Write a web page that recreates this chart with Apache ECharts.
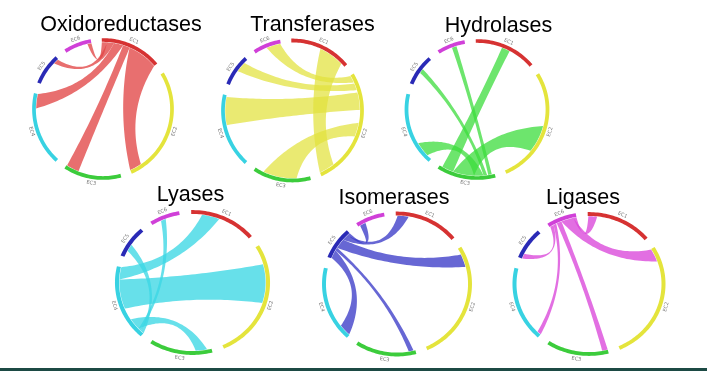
<!DOCTYPE html>
<html><head><meta charset="utf-8">
<script src="https://cdn.jsdelivr.net/npm/echarts@6/dist/echarts.min.js"></script>
<style>html,body{margin:0;padding:0;background:#fff}#c{width:707px;height:371px}</style>
</head><body><div id="c"></div>
<script>
// ---------- data ----------
const classNames = ['EC1', 'EC2', 'EC3', 'EC4', 'EC5', 'EC6'];
const arcSpan = [51, 97, 48, 61, 26, 23];      // ring degrees per class
const arcGap = 9;
const diagramTitles = ['Oxidoreductases', 'Transferases', 'Hydrolases', 'Lyases', 'Isomerases', 'Ligases'];
const diagramSource = [0, 1, 2, 3, 4, 5];
// links: [targetClass, srcStart, srcEnd, tgtStart, tgtEnd] (ring degrees)
const linksOxidoreductases = [
  [5, 4.5, 9, 352, 355.5],
  [4, 9, 15, 318.5, 323],
  [3, 15, 23, 276, 288.5],
  [2, 23, 29, 207, 218],
  [1, 29, 55.5, 151, 161.5]
];
const linksTransferases = [
  [5, 65, 71, 343, 355],
  [4, 72, 78, 311, 320],
  [3, 80, 95, 263, 287],
  [2, 106, 118, 182, 211],
  [0, 148, 161.5, 30, 52]
];
const linksHydrolases = [
  [5, 173, 176, 344, 348],
  [4, 177, 180, 309, 313],
  [3, 180, 188, 232, 245],
  [1, 188, 206, 110, 134],
  [0, 206, 216, 27, 34]
];
const linksLyases = [
  [0, 278, 288.5, 13, 27],
  [1, 253, 278, 80, 113],
  [2, 233, 243, 174, 183],
  [5, 230.5, 233, 340, 344],
  [4, 227.5, 230.5, 303, 309]
];
const linksIsomerases = [
  [3, 298, 305, 228, 238],
  [2, 305, 307.5, 172, 176],
  [1, 307.5, 316, 70, 81],
  [0, 316, 321, 6, 15],
  [5, 321, 323.5, 334, 339]
];
const linksLigases = [
  [4, 333, 336, 297.5, 302],
  [3, 336, 338.5, 227.5, 231],
  [2, 339, 343, 170.5, 175],
  [1, 343, 353, 65, 76],
  [0, 353, 355.5, 5, 12]
];
const allLinks = [linksOxidoreductases, linksTransferases, linksHydrolases, linksLyases, linksIsomerases, linksLigases];

// ---------- styles / layout ----------
const arcColors = ['#d63232', '#e4e43c', '#3ccc3c', '#38d2e2', '#2a2ab6', '#d040d8'];
const ribbonColors = ['rgba(226,70,70,0.78)', 'rgba(226,226,60,0.72)', 'rgba(60,220,60,0.75)',
  'rgba(60,215,228,0.78)', 'rgba(60,60,200,0.78)', 'rgba(218,70,218,0.78)'];
const layouts = [
  { left: 34, top: 40, width: 138, height: 138, tx: 121, ty: 25 },
  { left: 223, top: 40.5, width: 139, height: 140, tx: 312.5, ty: 25 },
  { left: 406.5, top: 41, width: 141, height: 137, tx: 498.5, ty: 26 },
  { left: 117, top: 212, width: 151, height: 141, tx: 190.5, ty: 195.5 },
  { left: 324, top: 213.5, width: 146, height: 141, tx: 394, ty: 198 },
  { left: 514.5, top: 214, width: 149, height: 140, tx: 583, ty: 198.5 }
];
const ANGLE0 = 95.5;
const R_OUT = 1.027, R_IN = 0.973, R_RIB = 0.968, R_LAB = 1.085, BEZ = 0.5;

const arcStart = [], arcEnd = [];
(function () { let acc = arcGap / 2; arcSpan.forEach(s => { arcStart.push(acc); arcEnd.push(acc + s); acc += s + arcGap; }); })();

function unit(a, r) { const t = (ANGLE0 - a) * Math.PI / 180; return [r * Math.cos(t), r * Math.sin(t)]; }
function arcPts(a0, a1, r, out) {
  const n = Math.max(2, Math.ceil(Math.abs(a1 - a0) / 1.5));
  for (let k = 0; k <= n; k++) out.push(unit(a0 + (a1 - a0) * k / n, r));
}
function bezPts(p, q, out) {
  const c = [(p[0] + q[0]) / 2 * BEZ, (p[1] + q[1]) / 2 * BEZ];
  const n = 40;
  for (let k = 1; k < n; k++) {
    const t = k / n, u = 1 - t;
    out.push([u * u * p[0] + 2 * u * t * c[0] + t * t * q[0], u * u * p[1] + 2 * u * t * c[1] + t * t * q[1]]);
  }
}
function renderArc(params, api) {
  const i = api.value(0), a0 = api.value(1), a1 = api.value(2);
  const pts = [];
  arcPts(a0, a1, R_OUT, pts);
  const inner = []; arcPts(a0, a1, R_IN, inner); inner.reverse();
  const poly = pts.concat(inner).map(p => api.coord(p));
  const c = api.coord([0, 0]);
  const lp = api.coord(unit((a0 + a1) / 2, R_LAB));
  let rot = Math.atan2(-(lp[1] - c[1]), lp[0] - c[0]) - Math.PI / 2;
  while (rot <= -Math.PI / 2) rot += Math.PI;
  while (rot > Math.PI / 2) rot -= Math.PI;
  return {
    type: 'group', children: [
      { type: 'polygon', shape: { points: poly }, style: { fill: arcColors[i] } },
      { type: 'text', x: lp[0], y: lp[1], rotation: rot,
        style: { text: classNames[i], fontSize: 5, fill: '#777', align: 'center', verticalAlign: 'middle', fontFamily: 'DejaVu Sans' } }
    ]
  };
}
function makeRibbon(color) {
  return function (params, api) {
    const s0 = api.value(1), s1 = api.value(2), t0 = api.value(3), t1 = api.value(4);
    const pts = [];
    arcPts(s0, s1, R_RIB, pts);
    bezPts(unit(s1, R_RIB), unit(t0, R_RIB), pts);
    arcPts(t0, t1, R_RIB, pts);
    bezPts(unit(t1, R_RIB), unit(s0, R_RIB), pts);
    return { type: 'polygon', shape: { points: pts.map(p => api.coord(p)) }, style: { fill: color } };
  };
}

const arcData = classNames.map((n, i) => [i, arcStart[i], arcEnd[i]]);
const grid = [], xAxis = [], yAxis = [], series = [], graphic = [];
layouts.forEach((l, d) => {
  grid.push({ left: l.left, top: l.top, width: l.width, height: l.height });
  xAxis.push({ type: 'value', gridIndex: d, min: -1, max: 1, show: false });
  yAxis.push({ type: 'value', gridIndex: d, min: -1, max: 1, show: false });
  series.push({ type: 'custom', xAxisIndex: d, yAxisIndex: d, silent: true, z: 2,
    data: allLinks[d].map(k => [k[0], k[1], k[2], k[3], k[4]]),
    renderItem: makeRibbon(ribbonColors[diagramSource[d]]) });
  series.push({ type: 'custom', xAxisIndex: d, yAxisIndex: d, silent: true, z: 3,
    data: arcData, renderItem: renderArc });
  graphic.push({ type: 'text', x: l.tx, y: l.ty, z: 10,
    style: { text: diagramTitles[d], fontSize: 21.5, fontFamily: 'Liberation Sans', fill: '#000', align: 'center', verticalAlign: 'middle' } });
});
graphic.push({ type: 'rect', shape: { x: 0, y: 368, width: 707, height: 3 }, style: { fill: '#1c4a44' }, z: 10 });

const chart = echarts.init(document.getElementById('c'));
chart.setOption({ animation: false, backgroundColor: '#fff', grid, xAxis, yAxis, series, graphic });
</script></body></html>
